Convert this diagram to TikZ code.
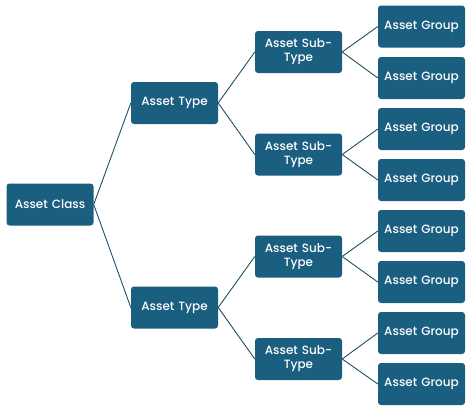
\documentclass[tikz,border=0pt]{standalone}
\usepackage{fontspec}
\setmainfont{Poppins}[UprightFont={* Medium}]
\definecolor{boxblue}{HTML}{1A5E80}
\definecolor{linec}{HTML}{1F4E66}
\begin{document}
\begin{tikzpicture}[x=1pt,y=-1pt,
  box/.style={fill=boxblue,rounded corners=3pt,text=white,font=\fontsize{12}{14}\selectfont,align=center,inner sep=0pt,minimum height=42pt,text width=87pt,minimum width=87pt},
  conn/.style={draw=linec,line width=0.9pt}]
\useasboundingbox (0,0) rectangle (474,410);
\node[box] (c) at (50,204.5) {Asset Class};
\node[box] (t1) at (174.5,103) {Asset Type};
\node[box] (t2) at (174.5,307.5) {Asset Type};
\node[box] (s1) at (298.5,52) {Asset Sub-\\Type};
\node[box] (s2) at (298.5,154.5) {Asset Sub-\\Type};
\node[box] (s3) at (298.5,256.5) {Asset Sub-\\Type};
\node[box] (s4) at (298.5,359) {Asset Sub-\\Type};
\foreach \i/\y in {1/26.5,2/78,3/129,4/180,5/231,6/282,7/333,8/384}
  \node[box] (g\i) at (421.5,\y) {Asset Group};
\draw[conn] (c.east) -- (t1.west);
\draw[conn] (c.east) -- (t2.west);
\draw[conn] (t1.east) -- (s1.west);
\draw[conn] (t1.east) -- (s2.west);
\draw[conn] (t2.east) -- (s3.west);
\draw[conn] (t2.east) -- (s4.west);
\draw[conn] (s1.east) -- (g1.west);
\draw[conn] (s1.east) -- (g2.west);
\draw[conn] (s2.east) -- (g3.west);
\draw[conn] (s2.east) -- (g4.west);
\draw[conn] (s3.east) -- (g5.west);
\draw[conn] (s3.east) -- (g6.west);
\draw[conn] (s4.east) -- (g7.west);
\draw[conn] (s4.east) -- (g8.west);
\end{tikzpicture}
\end{document}
